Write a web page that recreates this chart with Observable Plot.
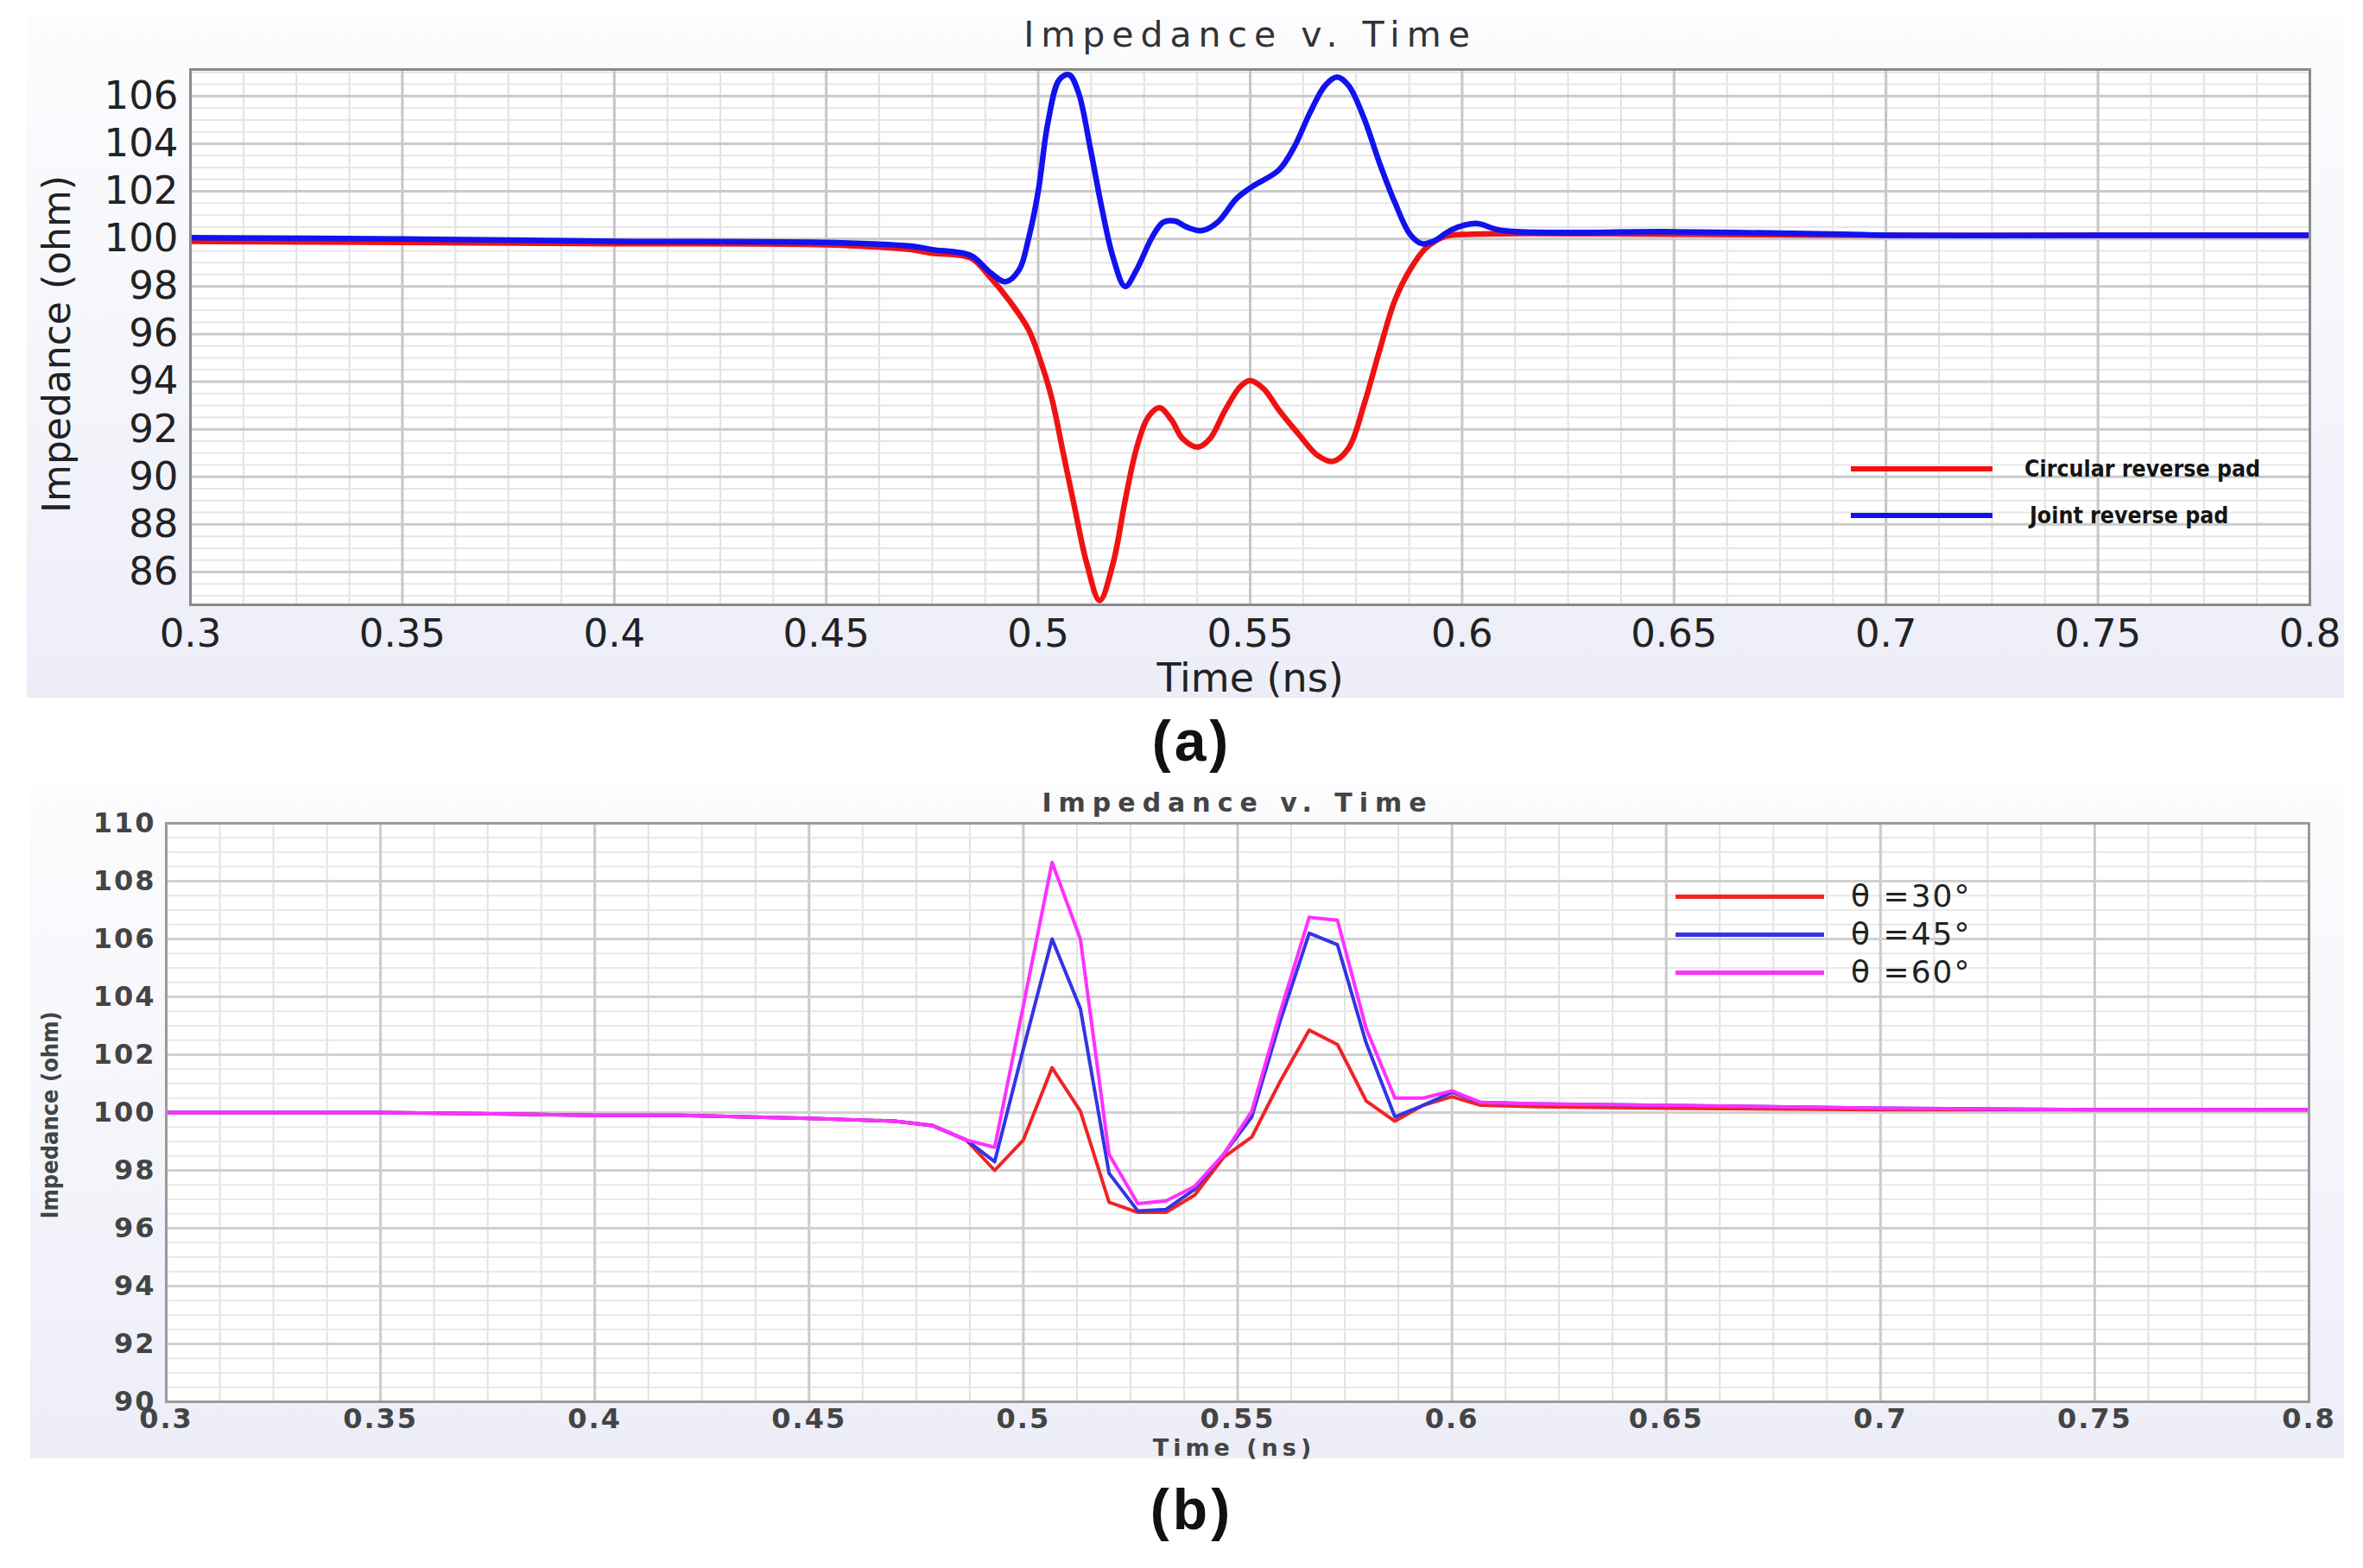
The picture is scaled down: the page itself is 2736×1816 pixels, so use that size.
<!DOCTYPE html>
<html>
<head>
<meta charset="utf-8">
<script src="https://cdn.jsdelivr.net/npm/d3@7"></script>
<script src="https://cdn.jsdelivr.net/npm/@observablehq/plot@0.6"></script>
<style>
  html, body { margin: 0; padding: 0; background: #ffffff; }
  #page { position: relative; width: 2736px; height: 1816px; overflow: hidden; background: #fff; }
  .panel { position: absolute; background: linear-gradient(to bottom, #fcfcfe 0%, #f4f5fb 55%, #ecedf7 100%); }
  .panel svg { display: block; }
  .lab { position: absolute; font-family: "Liberation Sans", Arial, sans-serif; font-weight: bold; color: #111; }
  .leg { position: absolute; }
</style>
</head>
<body>
<div id="page">
  <div id="pa" class="panel" style="left:31px; top:17px; width:2683px; height:791px;"></div>
  <div id="pb" class="panel" style="left:35px; top:907px; width:2679px; height:782px;"></div>
  <div class="lab" style="left:1300px; top:818px; width:160px; text-align:center; font-size:66px; line-height:80px; letter-spacing:4px;">(a)</div>
  <div class="lab" style="left:1300px; top:1708px; width:160px; text-align:center; font-size:66px; line-height:80px; letter-spacing:4px;">(b)</div>
</div>
<script>
// ---------------- DATA ----------------
// shared x axis
const xTicks = [0.3, 0.35, 0.4, 0.45, 0.5, 0.55, 0.6, 0.65, 0.7, 0.75, 0.8];

// (a) Impedance v. Time : circular vs joint reverse pad
const seriesA = ["Circular reverse pad", "Joint reverse pad"];
const colorsA = ["#f01212", "#1212f0"];
const yTicksA = [86, 88, 90, 92, 94, 96, 98, 100, 102, 104, 106];

const circularT = [0.30, 0.35, 0.40, 0.45, 0.47, 0.475, 0.4841, 0.4886, 0.4932, 0.4977, 0.5005, 0.5032, 0.5059, 0.5086, 0.5114, 0.5145, 0.5177, 0.5205, 0.5232, 0.5259, 0.5286, 0.5314, 0.5341, 0.5377, 0.5405, 0.5441, 0.5477, 0.55, 0.5532, 0.5568, 0.5614, 0.5659, 0.5695, 0.5732, 0.5768, 0.5805, 0.5841, 0.5877, 0.5914, 0.5959, 0.6023, 0.65, 0.70, 0.75, 0.80];
const circularZ = [99.9, 99.85, 99.8, 99.75, 99.55, 99.4, 99.2, 98.4, 97.4, 96.2, 94.9, 93.3, 91.0, 88.7, 86.4, 84.8, 86.4, 89.0, 91.2, 92.5, 92.9, 92.4, 91.6, 91.25, 91.6, 92.8, 93.8, 94.05, 93.7, 92.8, 91.8, 90.9, 90.65, 91.2, 93.0, 95.3, 97.4, 98.7, 99.6, 100.1, 100.2, 100.2, 100.15, 100.15, 100.15];

const jointT = [0.30, 0.35, 0.40, 0.45, 0.47, 0.475, 0.4841, 0.4886, 0.4923, 0.4955, 0.4977, 0.5, 0.5023, 0.505, 0.5073, 0.5095, 0.5123, 0.515, 0.5177, 0.5205, 0.5232, 0.5268, 0.5295, 0.5323, 0.535, 0.5386, 0.5423, 0.5468, 0.5505, 0.5568, 0.5605, 0.5641, 0.5677, 0.5705, 0.5732, 0.5768, 0.5805, 0.5841, 0.5877, 0.5905, 0.5932, 0.5977, 0.6032, 0.6095, 0.65, 0.69, 0.70, 0.75, 0.80];
const jointZ = [100.05, 100.0, 99.9, 99.85, 99.7, 99.55, 99.3, 98.6, 98.2, 98.7, 100.0, 102.0, 104.9, 106.7, 106.9, 106.15, 103.8, 101.3, 99.2, 98.0, 98.7, 100.05, 100.7, 100.75, 100.5, 100.35, 100.7, 101.7, 102.2, 102.9, 103.9, 105.3, 106.45, 106.8, 106.45, 105.1, 103.2, 101.55, 100.2, 99.8, 99.9, 100.4, 100.65, 100.35, 100.3, 100.2, 100.15, 100.15, 100.15];

// (b) Impedance v. Time : angle θ
const seriesB = ["θ =30°", "θ =45°", "θ =60°"];
const colorsB = ["#f02424", "#3434e2", "#ff30ff"];
const yTicksB = [90, 92, 94, 96, 98, 100, 102, 104, 106, 108, 110];

const timeB = [0.30, 0.33, 0.35, 0.38, 0.40, 0.42, 0.45, 0.46, 0.47, 0.4788, 0.4867, 0.4933, 0.50, 0.5067, 0.5133, 0.52, 0.5267, 0.5333, 0.54, 0.5467, 0.5533, 0.56, 0.5667, 0.5733, 0.58, 0.5867, 0.5933, 0.60, 0.6067, 0.62, 0.65, 0.70, 0.75, 0.80];
const theta30 = [100.0, 100.0, 100.0, 99.95, 99.9, 99.9, 99.8, 99.75, 99.7, 99.55, 99.05, 98.0, 99.05, 101.55, 100.05, 96.9, 96.55, 96.55, 97.15, 98.45, 99.15, 101.1, 102.85, 102.35, 100.4, 99.7, 100.25, 100.55, 100.25, 100.2, 100.15, 100.1, 100.1, 100.1];
const theta45 = [100.0, 100.0, 100.0, 99.95, 99.9, 99.9, 99.8, 99.75, 99.7, 99.55, 99.05, 98.3, 102.2, 106.0, 103.6, 97.9, 96.6, 96.65, 97.35, 98.55, 99.85, 103.2, 106.2, 105.8, 102.4, 99.85, 100.25, 100.7, 100.35, 100.3, 100.25, 100.15, 100.1, 100.1];
const theta60 = [100.0, 100.0, 100.0, 99.95, 99.9, 99.9, 99.8, 99.75, 99.7, 99.55, 99.05, 98.8, 103.7, 108.65, 106.0, 98.55, 96.85, 96.95, 97.45, 98.55, 100.05, 103.5, 106.75, 106.65, 102.9, 100.5, 100.5, 100.75, 100.35, 100.3, 100.25, 100.15, 100.1, 100.1];

// ---------------- TABLES ----------------
const dataA = [
  ...circularT.map((t, i) => ({t, z: circularZ[i], series: seriesA[0]})),
  ...jointT.map((t, i) => ({t, z: jointZ[i], series: seriesA[1]}))
];
const dataB = [theta30, theta45, theta60].flatMap((arr, k) =>
  timeB.map((t, i) => ({t, z: arr[i], series: seriesB[k]})));

const fmt = d => String(+d.toFixed(2));
const minorX = d3.range(0.3, 0.8001, 0.0125);

function spaceText(svg, match, spacing) {
  d3.select(svg).selectAll("text").filter(function () { return match(this.textContent); })
    .style("letter-spacing", spacing);
}

// ---------------- PANEL (a) ----------------
const plotA = Plot.plot({
  width: 2683, height: 791,
  marginLeft: 189, marginRight: 40, marginTop: 63, marginBottom: 108,
  style: {background: "transparent", fontFamily: "DejaVu Sans", color: "#222", overflow: "visible"},
  x: {domain: [0.3, 0.8]},
  y: {domain: [84.62, 107.12]},
  color: {domain: seriesA, range: colorsA},
  marks: [
    Plot.frame({fill: "#ffffff"}),
    Plot.ruleX(minorX, {stroke: "#e2e2e2", strokeWidth: 2}),
    Plot.ruleY(d3.range(85, 107.01, 0.5), {stroke: "#e6e6e6", strokeWidth: 2}),
    Plot.ruleX(xTicks, {stroke: "#c6c6c6", strokeWidth: 3}),
    Plot.ruleY(yTicksA, {stroke: "#cacaca", strokeWidth: 3}),
    Plot.line(dataA, {x: "t", y: "z", z: "series", stroke: "series", strokeWidth: 6.5, curve: "catmull-rom", clip: true}),
    Plot.frame({stroke: "#8a8a8a", strokeWidth: 3}),
    Plot.axisX({ticks: xTicks, tickSize: 0, tickPadding: 17, fontSize: 45, tickFormat: fmt, label: null}),
    Plot.axisY({ticks: yTicksA, tickSize: 0, tickPadding: 14, fontSize: 45, label: null}),
    Plot.text(["Impedance v. Time"], {text: d => d, frameAnchor: "top", dy: -40, fontSize: 41, fill: "#333", lineAnchor: "middle"}),
    Plot.text(["Time (ns)"], {text: d => d, frameAnchor: "bottom", dy: 86, fontSize: 46, fill: "#222", lineAnchor: "middle"}),
    Plot.text(["Impedance (ohm)"], {text: d => d, frameAnchor: "left", textAnchor: "middle", dx: -154, dy: 8, rotate: -90, fontSize: 44, fill: "#222", lineAnchor: "middle"})
  ]
});
document.getElementById("pa").appendChild(plotA);
spaceText(plotA, s => s === "Impedance v. Time", "8px");

// ---------------- PANEL (b) ----------------
const plotB = Plot.plot({
  width: 2679, height: 782,
  marginLeft: 157, marginRight: 41, marginTop: 46, marginBottom: 66,
  style: {background: "transparent", fontFamily: "DejaVu Sans", color: "#333", overflow: "visible"},
  x: {domain: [0.3, 0.8]},
  y: {domain: [90, 110]},
  color: {domain: seriesB, range: colorsB},
  marks: [
    Plot.frame({fill: "#ffffff"}),
    Plot.ruleX(minorX, {stroke: "#e2e2e2", strokeWidth: 2}),
    Plot.ruleY(d3.range(90, 110.01, 0.5), {stroke: "#e8e8e8", strokeWidth: 2}),
    Plot.ruleX(xTicks, {stroke: "#cbcbcb", strokeWidth: 3}),
    Plot.ruleY(yTicksB, {stroke: "#d0d0d0", strokeWidth: 3}),
    Plot.line(dataB, {x: "t", y: "z", z: "series", stroke: "series", strokeWidth: 4, clip: true}),
    Plot.frame({stroke: "#9a9a9a", strokeWidth: 3}),
    Plot.axisX({ticks: xTicks, tickSize: 0, tickPadding: 8, fontSize: 32, fontWeight: "bold", tickFormat: fmt, label: null, fill: "#444"}),
    Plot.axisY({ticks: yTicksB, tickSize: 0, tickPadding: 12, fontSize: 32, fontWeight: "bold", label: null, fill: "#444"}),
    Plot.text(["Impedance v. Time"], {text: d => d, frameAnchor: "top", dy: -23, fontSize: 30, fontWeight: "bold", fill: "#444", lineAnchor: "middle"}),
    Plot.text(["Time (ns)"], {text: d => d, frameAnchor: "bottom", dy: 54, dx: -4, fontSize: 27, fontWeight: "bold", fill: "#444", lineAnchor: "middle"}),
    Plot.text(["Impedance (ohm)"], {text: d => d, frameAnchor: "left", textAnchor: "middle", dx: -134, dy: 3, rotate: -90, fontSize: 27, fill: "#444", lineAnchor: "middle", fontFamily: "DejaVu Sans Condensed", fontWeight: "bold"})
  ]
});
document.getElementById("pb").appendChild(plotB);
spaceText(plotB, s => s === "Impedance v. Time", "8px");
spaceText(plotB, s => s === "Time (ns)", "5px");
spaceText(plotB, s => /^[0-9.]+$/.test(s), "2px");

// ---------------- LEGENDS ----------------
const page = document.getElementById("page");
function addLegend(names, colors, x0, x1, ys, tx, font, thick) {
  names.forEach((n, i) => {
    const ln = document.createElement("div");
    ln.className = "leg";
    ln.style.cssText = `left:${x0}px; top:${ys[i] - thick / 2}px; width:${x1 - x0}px; height:${thick}px; background:${colors[i]};`;
    page.appendChild(ln);
    const tt = document.createElement("div");
    tt.className = "leg";
    tt.textContent = n;
    tt.style.cssText = `left:${tx[i]}px; top:${ys[i] - 30}px; height:60px; line-height:60px; white-space:nowrap; ${font}`;
    page.appendChild(tt);
  });
}
addLegend(seriesA, colorsA, 2143, 2307, [543, 597], [2344, 2350],
  'font-family:"DejaVu Sans Condensed","DejaVu Sans"; font-weight:bold; font-size:26.5px; color:#151515;', 6);
addLegend(seriesB, colorsB, 1940, 2112, [1038, 1082, 1126], [2143, 2143, 2143],
  'font-family:"DejaVu Sans"; font-size:36px; color:#222; letter-spacing:2px;', 5);
</script>
</body>
</html>
